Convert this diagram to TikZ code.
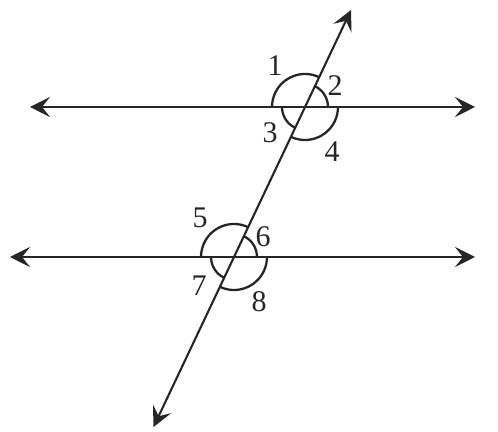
\documentclass[tikz,border=0pt]{standalone}
\usepackage{fontspec}
\setmainfont{Liberation Serif}
\usetikzlibrary{arrows.meta}

\begin{document}
\begin{tikzpicture}[x=0.5pt,y=0.5pt,>={Stealth[length=10pt,width=10pt,inset=4pt]},
                    parallel/.style={<->,line width=1.35pt,draw=black!85},
                    transversal/.style={<->,line width=1.05pt,draw=black!85},
                    anglearc/.style={line width=1.15pt,draw=black!85},
                    every node/.style={font=\fontsize{15}{17}\selectfont,inner sep=0pt,text=black!85}]
  \useasboundingbox (0,0) rectangle (498,432);

  \coordinate (P) at (305,325);
  \coordinate (Q) at (234,175);
  \coordinate (L1) at (30,325);
  \coordinate (R1) at (475,325);
  \coordinate (L2) at (10,175);
  \coordinate (R2) at (475,175);
  \coordinate (T) at (351,422);
  \coordinate (B) at (153.5,5);

  \draw[parallel] (L1) -- (R1);
  \draw[parallel] (L2) -- (R2);
  \draw[transversal] (B) -- (T);

  % angle marks at both crossings
  \foreach \c in {P,Q}{
    \draw[anglearc] (\c) ++(64.7:16.5pt) arc[start angle=64.7,end angle=180,radius=16.5pt];
    \draw[anglearc] (\c) ++(0:11.5pt) arc[start angle=0,end angle=64.7,radius=11.5pt];
    \draw[anglearc] (\c) ++(180:11.5pt) arc[start angle=180,end angle=244.7,radius=11.5pt];
    \draw[anglearc] (\c) ++(244.7:16.5pt) arc[start angle=244.7,end angle=360,radius=16.5pt];
  }

  \node (n1) at (275,366) {1};
  \node (n2) at (335,346) {2};
  \node (n3) at (270,299) {3};
  \node (n4) at (332,280) {4};
  \node (n5) at (200,214) {5};
  \node (n6) at (263,195) {6};
  \node (n7) at (199,146) {7};
  \node (n8) at (259,130) {8};
\end{tikzpicture}
\end{document}
